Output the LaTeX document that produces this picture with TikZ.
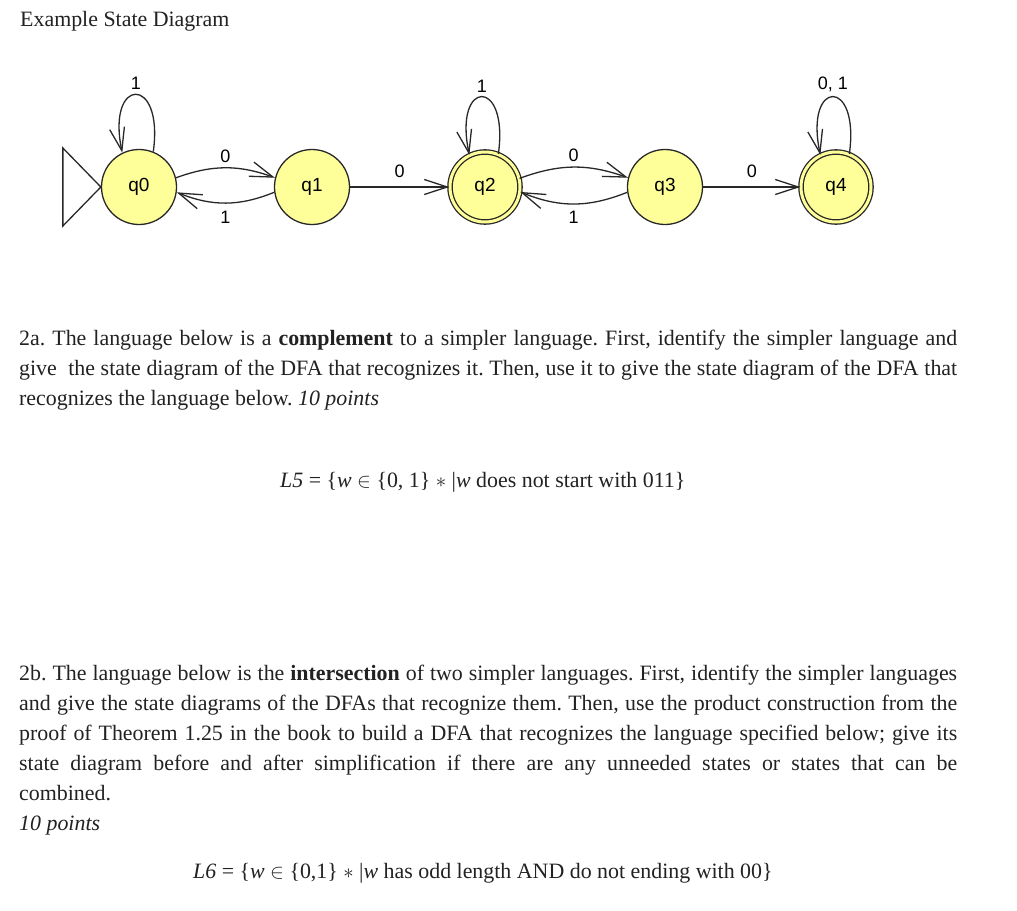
\documentclass[tikz,border=0pt]{standalone}
\usepackage{fontspec}
\setmainfont{Liberation Serif}
\newfontfamily\jflapfont{Liberation Sans}
\usetikzlibrary{arrows.meta}
\frenchspacing

\definecolor{statefill}{RGB}{255,255,153}
\definecolor{stateline}{RGB}{40,40,40}
\definecolor{bodytext}{RGB}{34,34,34}

\newlength{\textw}
\setlength{\textw}{938pt}

\tikzset{
  state/.style={circle, draw=stateline, fill=statefill, line width=1.3pt,
    minimum size=75pt, inner sep=0pt, font=\jflapfont\fontsize{19}{19}\selectfont},
  finalstate/.style={state, minimum size=70pt, double=statefill, double distance=3pt},
  trans/.style={draw=stateline, line width=1.3pt, -{Straight Barb[length=23pt,width=15pt]}},
  lbl/.style={font=\jflapfont\fontsize{18}{18}\selectfont, inner sep=2pt, text=black},
  txtline/.style={anchor=base west, inner sep=0pt, text=bodytext, font=\fontsize{21.9}{30}\selectfont},
}

\begin{document}
\begin{tikzpicture}[x=1pt, y=-1pt]
\fill[white] (0,0) rectangle (1017,910);
\useasboundingbox (0,0) rectangle (1017,910);

\node[txtline] (title) at (20,26) {Example State Diagram};

% states
\node[state] (q0) at (139,187) {q0};
\node[state] (q1) at (312,187) {q1};
\node[finalstate] (q2) at (485,187) {q2};
\node[state] (q3) at (665,187) {q3};
\node[finalstate] (q4) at (836,187) {q4};

% start marker
\draw[stateline, line width=1.3pt, fill=white, line join=miter] (q0.west) -- ++(-38,-39) -- ++(0,78) -- cycle;

% transitions (y runs downwards, so the loops go to -80 / -100)
\draw[trans] (q0.68) .. controls +(-82:78) and +(-102:78) .. (q0.116) node[lbl, pos=0.5, above=2pt] (l00) {1};
\draw[trans] (q0.14) to[bend left=20] node[lbl, above=3pt] (l01) {0} (q1.166);
\draw[trans] (q1.188) to[bend left=22] node[lbl, below=5pt] (l10) {1} (q0.352);
\draw[trans] (q1) -- node[lbl, above=7pt] (l12) {0} (q2);
\draw[trans] (q2.68) .. controls +(-82:78) and +(-102:78) .. (q2.116) node[lbl, pos=0.5, above=2pt] (l22) {1};
\draw[trans] (q2.14) to[bend left=20] node[lbl, above=3pt] (l23) {0} (q3.166);
\draw[trans] (q3.188) to[bend left=22] node[lbl, below=5pt] (l32) {1} (q2.352);
\draw[trans] (q3) -- node[lbl, above=7pt] (l34) {0} (q4);
\draw[trans] (q4.68) .. controls +(-82:78) and +(-102:78) .. (q4.116) node[lbl, pos=0.5, above=2pt] (l44) {0, 1};

% question 2a
\node[txtline] (a1) at (19,345) {\hbox to\textw{2a. The language below is a \textbf{complement} to a simpler language. First, identify the simpler language and}};
\node[txtline] (a2) at (19,375) {\hbox to\textw{give~ the state diagram of the DFA that recognizes it. Then, use it to give the state diagram of the DFA that}};
\node[txtline] (a3) at (19,405) {recognizes the language below. \textit{10 points}};
\node[txtline] (l5) at (280,487) {\textit{L5} = \{\textit{w} $\in$ \{0, 1\} $\ast$ |\textit{w} does not start with 011\}};

% question 2b
\node[txtline] (b1) at (19,680) {\hbox to\textw{2b. The language below is the \textbf{intersection} of two simpler languages. First, identify the simpler languages}};
\node[txtline] (b2) at (19,710) {\hbox to\textw{and give the state diagrams of the DFAs that recognize them. Then, use the product construction from the}};
\node[txtline] (b3) at (19,740) {\hbox to\textw{proof of Theorem 1.25 in the book to build a DFA that recognizes the language specified below; give its}};
\node[txtline] (b4) at (19,770) {\hbox to\textw{state diagram before and after simplification if there are any unneeded states or states that can be}};
\node[txtline] (b5) at (19,800) {combined.};
\node[txtline] (b6) at (19,830) {\textit{10 points}};
\node[txtline] (l6) at (193,878) {\textit{L6} = \{\textit{w} $\in$ \{0,1\} $\ast$ |\textit{w} has odd length AND do not ending with 00\}};
\end{tikzpicture}
\end{document}
